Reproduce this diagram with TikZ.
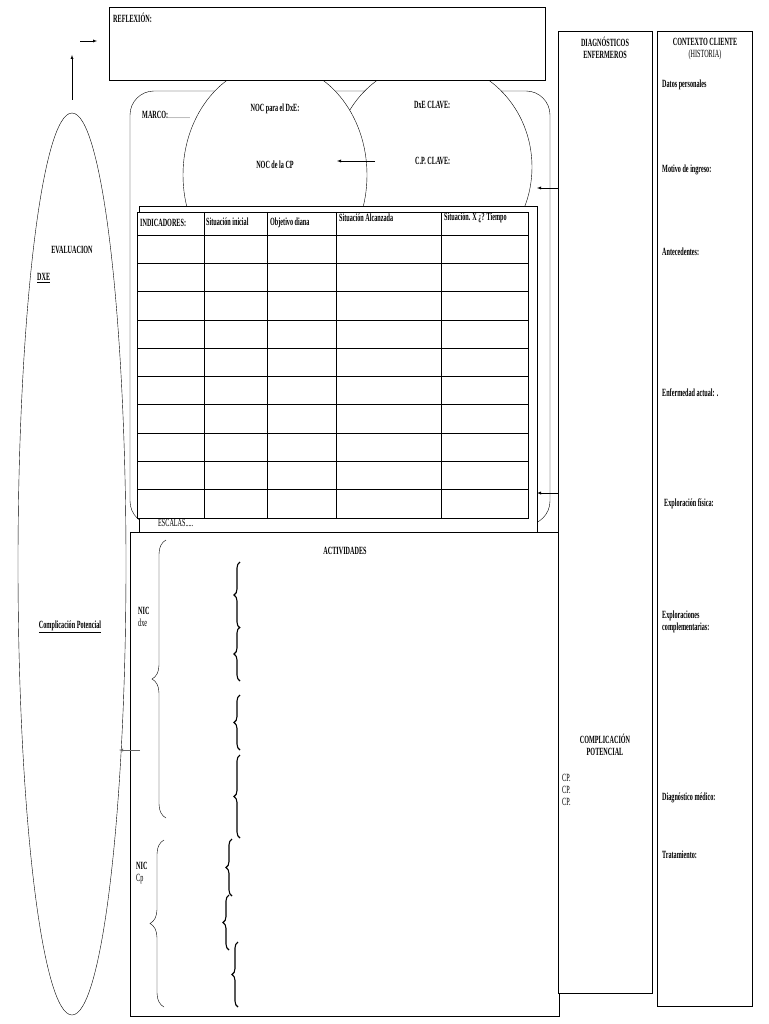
\documentclass[tikz,border=0pt]{standalone}
\usepackage{fontspec}
\setmainfont{Liberation Serif}
\newfontfamily\narrowfont[FakeStretch=0.56]{Liberation Serif}
\usetikzlibrary{arrows,positioning,shapes.geometric,decorations.pathreplacing}

\begin{document}
\begin{tikzpicture}[x=1pt,y=-1pt,
  txt/.style={font=\narrowfont\bfseries\fontsize{11}{12}\selectfont,inner sep=0pt,anchor=west},
  plain/.style={font=\narrowfont\fontsize{11}{12}\selectfont,inner sep=0pt,anchor=west},
  box/.style={draw,thick,fill=white,inner sep=0pt,anchor=north west},
  bubble/.style={draw,ellipse,fill=white,inner sep=0pt},
  bigbrace/.style={decorate,decoration={brace,amplitude=14pt}},
  smallbrace/.style={decorate,decoration={brace,amplitude=6pt},line width=1.1pt},
  arr/.style={-latex}]
\useasboundingbox (0,0) rectangle (768,1024);
% evaluacion
\node[draw,ellipse,minimum width=108pt,minimum height=902pt] (eval) at (72,564) {};
\node[txt,anchor=center] (evaltxt) at (72,250) {EVALUACION};
\node[txt] (dxetxt) at (37,278) {\underline{DXE}};
\node[txt,anchor=center] (cptxt) at (70,627) {\underline{Complicación Potencial}};
% marco
\draw[rounded corners=24pt] (130,91) rectangle (550,525);
\node[bubble,minimum width=198pt,minimum height=210pt] (clave) at (433,167) {};
\node[bubble,minimum width=184pt,minimum height=222pt] (noc) at (275,175) {};
\node[txt] (marco) at (142,115) {MARCO:\mdseries\fontsize{7}{8}\selectfont......................};
\node[txt,anchor=center] (nocdxe) at (275,109) {NOC para el DxE:};
\node[txt,anchor=center] (noccp) at (275,165) {NOC de la CP};
\node[txt] (dxeclave) at (414,105) {DxE CLAVE:};
\node[txt] (cpclave) at (415,161) {C.P. CLAVE:};
\draw[arr] (cpclave.west) ++(-40,0) coordinate (a1) -- ++(-38,0) coordinate (a2);
% reflexion
\node[box,minimum width=436pt,minimum height=73pt] (reflex) at (109,7) {};
\node[txt] (reflextxt) at (113,18) {REFLEXIÓN:};
\coordinate (up1) at (72,100);
\coordinate (up2) at (72,55);
\draw[arr] (up1) -- (up2);
\coordinate (r1) at (80,41);
\coordinate (r2) at (97,41);
\draw[arr] (r1) -- (r2);
% tabla
\node[box,minimum width=398pt,minimum height=326pt] (frame) at (139,206) {};
\node[box,minimum width=391pt,minimum height=306pt] (tabla) at (137,212) {};
\foreach \i in {0,...,9}
  \draw[thick] (137,235+\i*28.3) -- (528,235+\i*28.3);
\foreach \x in {204,267,336,441}
  \draw[thick] (\x,212) -- (\x,518);
\node[txt] (h1) at (140,223) {INDICADORES:};
\node[txt] (h2) at (206,222) {Situación inicial};
\node[txt] (h3) at (270,223) {Objetivo diana};
\node[txt] (h4) at (339,218) {Situación Alcanzada};
\node[txt] (h5) at (444,218) {Situación. X ¿? Tiempo};
\node[plain] (escalas) at (158,523) {ESCALAS.....};
% actividades
\node[box,minimum width=429pt,minimum height=484pt] (activ) at (130,532) {};
\node[txt,anchor=center] (acttxt) at (345,551) {ACTIVIDADES};
\node[plain,align=left] (nicdxe) at (138,617) {\textbf{NIC}\\dxe};
\node[plain,align=left] (niccp) at (136,873) {\textbf{NIC}\\Cp};
\draw[bigbrace] (166,818) -- (166,540);
\draw[bigbrace] (164,1007) -- (164,840);
\foreach \xa/\ya/\yb in {240/628/562,240/681/627,240/750/695,240/838/755,232/896/839,229/950/895,238/1007/942}
  \draw[smallbrace] (\xa,\ya) -- (\xa,\yb);
\coordinate (evalpt) at (119,750);
\draw[arr,black!60] (activ.west |- evalpt) ++(10,0) -- (evalpt);
% diagnosticos
\node[box,minimum width=94pt,minimum height=962pt] (diag) at (558,31) {};
\node[txt,anchor=center,align=center] (diagtxt) at (605,48) {DIAGNÓSTICOS\\ENFERMEROS};
\node[txt,anchor=center,align=center] (comptxt) at (605,745) {COMPLICACIÓN\\POTENCIAL};
\node[plain,align=left,anchor=north west] (cps) at (562,774) {CP.\\CP.\\CP.};
\coordinate (m1) at (537,188);
\coordinate (m2) at (537,493);
\draw[arr] (diag.west |- m1) -- (m1);
\draw[arr] (diag.west |- m2) -- (m2);
% contexto
\node[box,minimum width=95pt,minimum height=975pt] (ctx) at (657,31) {};
\node[txt,anchor=center,align=center] (ctxtxt) at (705,49) {CONTEXTO CLIENTE\\\mdseries(HISTORIA)};
\node[txt] (c1) at (662,85) {Datos personales};
\node[txt] (c2) at (662,170) {Motivo de ingreso:};
\node[txt] (c3) at (662,252) {Antecedentes:};
\node[txt] (c4) at (662,393) {Enfermedad actual: .};
\node[txt] (c5) at (664,504) {Exploración física:};
\node[txt,align=left] (c6) at (662,622) {Exploraciones\\complementarias:};
\node[txt] (c7) at (662,798) {Diagnóstico médico:};
\node[txt] (c8) at (662,855) {Tratamiento:};
\end{tikzpicture}
\end{document}
